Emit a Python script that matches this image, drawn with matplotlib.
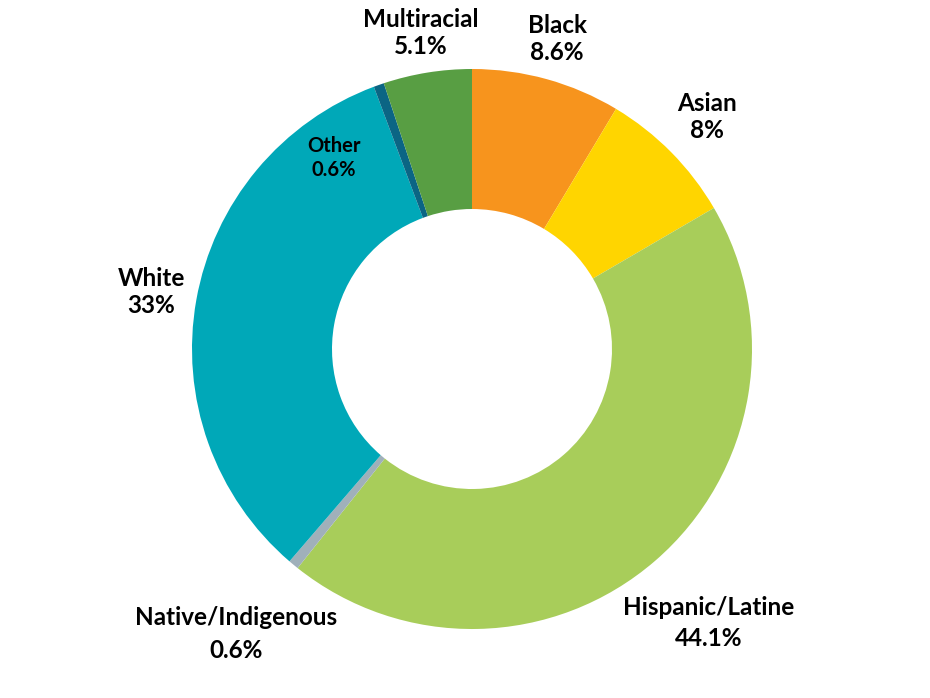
import matplotlib
matplotlib.use('Agg')
from matplotlib import pyplot as plt

groups = ['Black', 'Asian', 'Hispanic/Latine', 'Native/Indigenous', 'White', 'Other', 'Multiracial']
shares = [8.6, 8.0, 44.1, 0.6, 33.0, 0.6, 5.1]
share_text = ['8.6%', '8%', '44.1%', '0.6%', '33%', '0.6%', '5.1%']
colors = ['#F7941D', '#FFD500', '#A8CD5A', '#A0B0BA', '#00A8B8', '#0B6584', '#589E43']

# label centres in pixels (x, y from top) and line spacing
label_px = [(557, 39), (707, 117), (709, 623), (236, 634), (151, 292), (334, 158), (421, 33)]
label_gap = [1.2, 1.2, 1.45, 1.5, 1.2, 1.2, 1.2]
label_size = [17.5, 17.5, 17.5, 17.5, 17.5, 14.5, 17.5]

W, H = 930, 698
cx, cy, R = 472, 349, 280

fig = plt.figure(figsize=(W / 100, H / 100), dpi=100)
ax = fig.add_axes([0, 0, 1, 1])
ax.pie(shares, colors=colors, startangle=90, counterclock=False, radius=1,
       wedgeprops=dict(width=0.5, linewidth=0))
ax.set_xlim(-cx / R, (W - cx) / R)
ax.set_ylim(-(H - cy) / R, cy / R)
ax.set_aspect('equal')
ax.axis('off')

for g, t, (px, py), gap, fs in zip(groups, share_text, label_px, label_gap, label_size):
    ax.text((px - cx) / R, (cy - py) / R, f'{g}\n{t}', ha='center', va='center',
            fontsize=fs, fontweight='bold', family='Lato', linespacing=gap, color='black')

fig.savefig('out.png', dpi=100)
